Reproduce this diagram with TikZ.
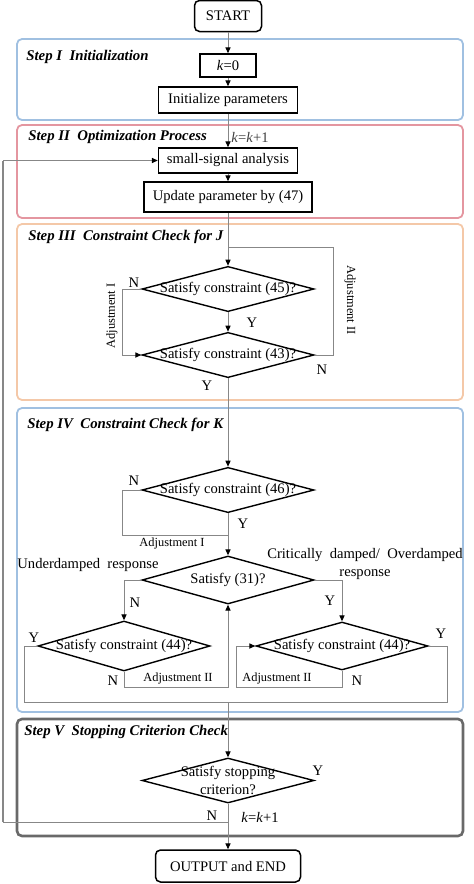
\documentclass[tikz,border=0pt]{standalone}
\usepackage{fontspec}
\setmainfont{Liberation Serif}
\usetikzlibrary{shapes.geometric,arrows.meta}

\definecolor{frameblue}{RGB}{160,192,225}
\definecolor{framered}{RGB}{228,150,160}
\definecolor{frameorange}{RGB}{244,200,168}
\definecolor{framegray}{RGB}{105,105,105}
\definecolor{linkgray}{RGB}{135,135,135}

\tikzset{
  box/.style={draw,line width=0.75pt,rectangle,inner sep=0pt},
  term/.style={box,rounded corners=2.5pt},
  test/.style={draw,line width=0.7pt,diamond,aspect=3.8,inner xsep=0pt,inner ysep=-1pt,minimum width=86pt,minimum height=22.5pt},
  link/.style={draw=linkgray,line width=0.5pt},
  arr/.style={link,-{Triangle[length=3pt,width=2.6pt,color=black]}},
  frame/.style={line width=0.9pt,rounded corners=2.5pt},
  steplabel/.style={anchor=west,inner sep=0pt,font=\fontsize{7.4}{9}\selectfont\bfseries\itshape},
  adj/.style={inner sep=0pt,font=\fontsize{6.2}{7}\selectfont}
}

\begin{document}
\begin{tikzpicture}[x=0.5pt,y=-0.5pt,font=\fontsize{7.3}{8.6}\selectfont]
\useasboundingbox (0,0) rectangle (474,884);

% Step frames
\draw[frame,draw=frameblue] (17,39) rectangle (463,120);
\draw[frame,draw=framered] (17,125) rectangle (463,218);
\draw[frame,draw=frameorange] (17,224) rectangle (463,400);
\draw[frame,draw=frameblue] (17,408) rectangle (463,712);
\draw[frame,draw=framegray,line width=1.3pt] (17,719) rectangle (463,836);

\node[steplabel] (stepI) at (26,57) {Step I\ \ Initialization};
\node[steplabel] (stepII) at (28,137) {Step II\ \ Optimization Process};
\node[steplabel] (stepIII) at (28,237) {Step III\ \ Constraint Check for J};
\node[steplabel] (stepIV) at (27,425) {Step IV\ \ Constraint Check for K};
\node[steplabel] (stepV) at (24,732) {Step V\ \ Stopping Criterion Check};

% Blocks
\node[term,minimum width=33.5pt,minimum height=15.5pt] (start) at (228,16) {START};
\node[box,minimum width=28pt,minimum height=11.5pt] (k0) at (228,65.5) {\textit{k}=0};
\node[box,minimum width=69.5pt,minimum height=13pt] (init) at (228,100) {Initialize parameters};
\node[box,minimum width=69.5pt,minimum height=12.5pt] (ssa) at (228,160.5) {small-signal analysis};
\node[box,minimum width=84pt,minimum height=15pt] (upd) at (228,197) {Update parameter by (47)};
\node[test] (c45) at (228,289) {Satisfy constraint (45)?};
\node[test] (c43) at (228,355) {Satisfy constraint (43)?};
\node[test] (c46) at (228,490) {Satisfy constraint (46)?};
\node[test,minimum height=24pt] (c31) at (228,580) {Satisfy (31)?};
\node[test,minimum height=25pt] (c44a) at (124,646) {Satisfy constraint (44)?};
\node[test,minimum height=24pt] (c44b) at (342,646) {Satisfy constraint (44)?};
\node[test,align=center,inner ysep=-4.5pt] (stop) at (228,780.5) {Satisfy stopping\\criterion?};
\node[term,minimum width=72.5pt,minimum height=16pt] (out) at (228,866) {OUTPUT and END};

% Main flow
\coordinate (j1) at (228,247);
\coordinate (j2) at (228,535);
\coordinate (j3) at (228,702);
\coordinate (j5) at (228,822);
\draw[arr] (start) -- (k0);
\draw[arr] (k0) -- (init);
\draw[arr] (init) -- (ssa);
\draw[arr] (ssa) -- (upd);
\draw[arr] (upd) -- (c45);
\draw[arr] (c45) -- (c43);
\draw[arr] (c43) -- (c46);
\draw[arr] (c46) -- (c31);
\draw[arr] (j3) -- (stop);
\draw[arr] (stop) -- (out);

% Loops for J
\draw[arr] (c45.west) -- ++(-19,0) |- (c43.west);
\draw[link] (c43.east) -- ++(19,0) |- (j1);
\node[adj,rotate=90] (adjJ1) at (112,316) {Adjustment I};
\node[adj,rotate=-90] (adjJ2) at (350,300) {Adjustment II};

% Loops for K
\draw[link] (c46.west) -- ++(-19,0) |- (j2);
\node[adj] (adjK1) at (172,544) {Adjustment I};
\draw[arr] (c31.west) -| (c44a.north);
\draw[arr] (c31.east) -| (c44b.north);
\draw[link] (c44a.west) -- ++(-13,0) |- (j3);
\draw[link] (c44b.east) -- ++(19,0) |- (j3);
\draw[arr] (c44a.south) -- ++(0,16) -| (c31.south);
\draw[arr] (c44b.south) -- ++(0,17) -- ++(-106,0) |- (c44b.west);
\node[adj] (adjK2) at (178,679) {Adjustment II};
\node[adj] (adjK3) at (277,679) {Adjustment II};
\node (under) at (88,565) {Underdamped\ \ response};
\node[align=center,inner sep=0pt] (over) at (365,564) {Critically\ \ damped/\ \ Overdamped\\response};

% Feedback
\coordinate (fbl) at (3,822);
\coordinate (fbu) at (3,160.5);
\draw[link] (j5) -- (fbl);
\draw[link,line width=1pt] (fbl) -- (fbu);
\draw[arr] (fbu) -- (ssa.west);

% Labels
\node[text=black!75] (kinc1) at (250,137) {\textit{k}=\textit{k}+1};
\node (kinc2) at (260,817) {\textit{k}=\textit{k}+1};
\node (n1) at (134,283) {N};
\node (y1) at (252,323) {Y};
\node (n2) at (322,370) {N};
\node (y2) at (207,386) {Y};
\node (n3) at (134,481) {N};
\node (y3) at (243,524) {Y};
\node (n4) at (135,603) {N};
\node (y4) at (330,601) {Y};
\node (y5) at (34,638) {Y};
\node (n5) at (113,681) {N};
\node (y6) at (441,634) {Y};
\node (n6) at (357,681) {N};
\node (y7) at (318,771) {Y};
\node (n7) at (212,816) {N};
\end{tikzpicture}
\end{document}
